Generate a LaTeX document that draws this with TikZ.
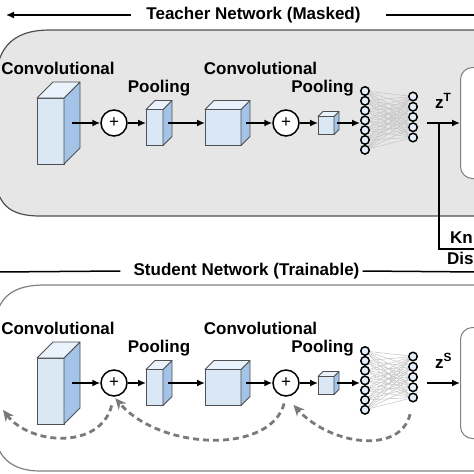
\documentclass[tikz,border=0pt]{standalone}
\usepackage{fontspec}
\setmainfont{Liberation Sans}
\usetikzlibrary{arrows.meta,positioning,shapes}

\definecolor{panelgray}{HTML}{E6E6E6}
\definecolor{edgegray}{HTML}{505050}
\definecolor{frontblue}{HTML}{DAE8F6}
\definecolor{sideblue}{HTML}{A3C4E6}
\definecolor{topblue}{HTML}{EAF2FB}
\definecolor{unitfill}{HTML}{E6EFF8}
\definecolor{wiregray}{HTML}{C4C4C4}
\definecolor{backgray}{HTML}{7A7A7A}

\tikzset{
  lbl/.style={font=\fontsize{17}{20}\selectfont\bfseries, inner sep=0pt},
  face/.style={draw=edgegray, fill=frontblue, line width=0.8pt, inner sep=0pt, outer sep=0pt},
  sideface/.style={draw=edgegray, fill=sideblue, line width=0.8pt, line join=round},
  topface/.style={draw=edgegray, fill=topblue, line width=0.8pt, line join=round},
  adder/.style={circle, draw, fill=white, line width=1.5pt, minimum size=26pt, inner sep=0pt, font=\fontsize{17}{17}\selectfont},
  neuron/.style={circle, draw, fill=unitfill, line width=1.5pt, minimum size=8.5pt, inner sep=0pt},
  wire/.style={draw=wiregray, line width=0.5pt},
  flow/.style={-{Latex[length=8pt,width=7pt]}, line width=1.5pt},
  backprop/.style={-{Stealth[length=11pt,width=10pt]}, draw=backgray, line width=2.8pt, dash pattern=on 6pt off 4pt},
  outbox/.style={draw=gray, fill=white, line width=1pt, rounded corners=12pt, anchor=north west, inner sep=0pt},
  panel/.style={line width=1.2pt},
}

% front face as a node, side and lid drawn from its anchors
\newcommand{\convbox}[5]{%
  \node[face, minimum width=#3pt, minimum height=#4pt] (#1) at #2 {};
  \filldraw[sideface] (#1.south east) -- ++(#5,-#5) -- ++(0,-#4) -- (#1.north east) -- cycle;
  \filldraw[topface] (#1.north west) -- ++(#5,-#5) -- ++(#3,0) -- (#1.north east) -- cycle;
  \coordinate (#1o) at ([shift={(#5/2,-#5/2)}]#1.east);
}

\begin{document}
\begin{tikzpicture}[x=1pt,y=-1pt]
\useasboundingbox (0,0) rectangle (474,474);
\clip (0,0) rectangle (474,474);

% panels
\filldraw[panel, draw=edgegray, fill=panelgray] (520,30) -- (50,30) .. controls (10,30) and (-5,50) .. (-5,90) -- (-5,170) .. controls (-5,205) and (10,216) .. (40,216) -- (520,216) -- cycle;
\filldraw[panel, draw=gray, fill=white] (520,285) -- (45,285) .. controls (15,285) and (0,295) .. (-5,320) -- (-5,430) .. controls (-5,455) and (10,471) .. (40,471) -- (520,471) -- cycle;

% titles
\node[lbl] (ttitle) at (253.5,15) {Teacher Network (Masked)};
\coordinate (tleft) at (6,15);
\coordinate (tright) at (480,15);
\draw[flow] ([xshift=-15pt]ttitle.west) -- (tleft);
\draw[line width=1.5pt] ([xshift=25pt]ttitle.east) -- (tright);

\node[lbl] (stitle) at (246.5,271) {Student Network (Trainable)};
\coordinate (sleft) at (-2,272);
\coordinate (sright) at (480,272);
\draw[line width=1.5pt] ([xshift=-13pt]stitle.west) -- (sleft);
\draw[line width=1.5pt] ([xshift=3pt]stitle.east) -- (sright);

% both networks
\foreach \r/\dy/\ltr in {t/0/T, s/260/S} {
  \node[lbl] (\r conv1) at (58,68+\dy) {Convolutional};
  \node[lbl] (\r pool1) at (159,88+\dy) {Pooling};
  \node[lbl] (\r conv2) at (260.5,68+\dy) {Convolutional};
  \node[lbl] (\r pool2) at (322.5,88+\dy) {Pooling};

  \convbox{\r c1}{(50.5,131+\dy)}{27}{66}{16}
  \convbox{\r p1}{(154.5,127.5+\dy)}{17}{36}{9}
  \convbox{\r c2}{(223,127.5+\dy)}{36}{36}{9}
  \convbox{\r p2}{(326,125.5+\dy)}{16}{18}{5}

  \node[adder] (\r s1) at (114,123+\dy) {+};
  \node[adder] (\r s2) at (286,123+\dy) {+};

  \foreach \i in {1,...,7} \node[neuron] (\r l\i) at (365,81.2+9.8*\i+\dy) {};
  \foreach \j in {1,...,5} \node[neuron] (\r r\j) at (413,86.25+10.25*\j+\dy) {};
  \foreach \i in {1,...,7} \foreach \j in {1,...,5} \draw[wire] (\r l\i) -- (\r r\j);

  \node[outbox, minimum width=80pt, minimum height=111pt] (\r out) at (460,67+\dy) {};
  \node[lbl, anchor=base west] (\r z) at (435,108+\dy) {z\textsuperscript{\ltr}};
  \coordinate (\r zo) at (427,123+\dy);

  \draw[flow] (\r c1o) -- (\r s1);
  \draw[flow] (\r s1) -- (\r s1 -| \r p1.west);
  \draw[flow] (\r p1o) -- (\r p1o -| \r c2.west);
  \draw[flow] (\r c2o) -- (\r s2);
  \draw[flow] (\r s2) -- (\r s2 -| \r p2.west);
  \draw[flow] (\r p2o) -- (\r p2o -| \r l1.west);
  \draw[flow] (\r zo) -- (\r zo -| \r out.west);
}

% distillation link
\coordinate (kstart) at (439,123);
\coordinate (kend) at (480,249);
\draw[line width=1.5pt] (kstart) |- (kend);
\node[lbl, anchor=base west] (kn) at (450,243) {Kn};
\node[lbl, anchor=base west] (dis) at (447,264) {Dis};

% gradients flowing back in the student
\coordinate (sback) at (3,410);
\draw[backprop, shorten <=12pt, shorten >=11pt] (sr5.south) .. controls (400,455) and (330,445) .. (ss2.south);
\draw[backprop, shorten <=7pt, shorten >=2pt] (ss2.south) .. controls (270,455) and (160,450) .. (ss1.south);
\draw[backprop, shorten <=9pt] (ss1.south) .. controls (100,450) and (30,445) .. (sback);
\end{tikzpicture}
\end{document}
